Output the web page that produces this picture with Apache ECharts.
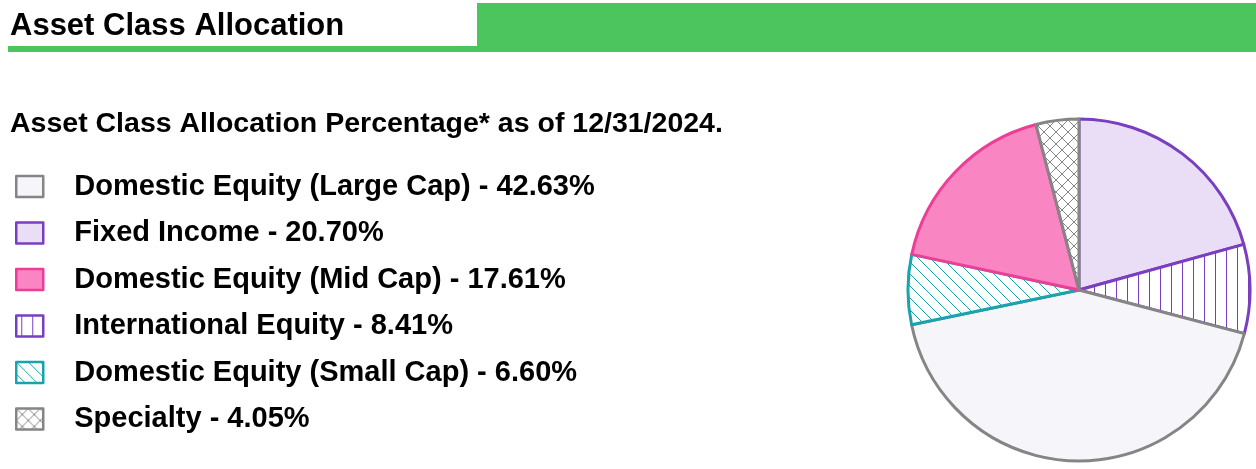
<!DOCTYPE html>
<html><head><meta charset="utf-8">
<script src="https://cdn.jsdelivr.net/npm/echarts@6/dist/echarts.min.js"></script>
<style>html,body{margin:0;padding:0;background:#fff}#c{width:1256px;height:469px}</style>
</head><body><div id="c"></div>
<script>
// slice order is clockwise from 12 o'clock, legend order is by size
const names = ['Fixed Income', 'International Equity', 'Domestic Equity (Large Cap)',
    'Domestic Equity (Small Cap)', 'Domestic Equity (Mid Cap)', 'Specialty'];
const values = [20.70, 8.41, 42.63, 6.60, 17.61, 4.05];
const legendOrder = ['Domestic Equity (Large Cap)', 'Fixed Income', 'Domestic Equity (Mid Cap)',
    'International Equity', 'Domestic Equity (Small Cap)', 'Specialty'];

function pattern(kind, stroke) {
    const cv = document.createElement('canvas');
    const s = kind === 'v' ? 11 : 12;
    cv.width = s; cv.height = s;
    const g = cv.getContext('2d');
    g.fillStyle = '#fff'; g.fillRect(0, 0, s, s);
    g.strokeStyle = stroke; g.lineWidth = 1;
    g.beginPath();
    if (kind === 'v') { g.moveTo(5.5, 0); g.lineTo(5.5, s); }
    if (kind === 'd' || kind === 'x') { g.moveTo(0, 0); g.lineTo(s, s); g.moveTo(-s, 0); g.lineTo(s, 2 * s); g.moveTo(0, -s); g.lineTo(2 * s, s); }
    if (kind === 'x') { g.moveTo(s, 0); g.lineTo(0, s); g.moveTo(2 * s, 0); g.lineTo(0, 2 * s); g.moveTo(s, -s); g.lineTo(-s, s); }
    g.stroke();
    return { image: cv, repeat: 'repeat' };
}

const styles = {
    'Fixed Income': { color: '#e9def5', borderColor: '#7a3fc0' },
    'International Equity': { color: pattern('v', '#7a3fc0'), borderColor: '#7a3fc0' },
    'Domestic Equity (Large Cap)': { color: '#f6f6fa', borderColor: '#858585' },
    'Domestic Equity (Small Cap)': { color: pattern('d', '#1aa3ad'), borderColor: '#1aa3ad' },
    'Domestic Equity (Mid Cap)': { color: '#f986c2', borderColor: '#ee3d96' },
    'Specialty': { color: pattern('x', '#858585'), borderColor: '#858585' }
};

const chart = echarts.init(document.getElementById('c'));
chart.setOption({
    animation: false,
    title: [
        { text: 'Asset Class Allocation', left: 5, top: 6, textStyle: { fontFamily: 'Liberation Sans', fontSize: 31, fontWeight: 'bold', color: '#000' } },
        { text: 'Asset Class Allocation Percentage* as of 12/31/2024.', left: 5, top: 105, textStyle: { fontFamily: 'Liberation Sans', fontSize: 28.5, fontWeight: 'bold', color: '#000' } }
    ],
    graphic: [
        { type: 'rect', shape: { x: 477, y: 3, width: 779, height: 49 }, style: { fill: '#4cc55e' } },
        { type: 'rect', shape: { x: 8, y: 46, width: 469, height: 6 }, style: { fill: '#4cc55e' } }
    ],
    legend: {
        orient: 'vertical', left: 10, top: 167,
        data: legendOrder, icon: 'rect',
        itemWidth: 27, itemHeight: 21, itemGap: 17.5,
        selectedMode: false,
        formatter: nm => nm + ' - ' + values[names.indexOf(nm)].toFixed(2) + '%',
        textStyle: { fontFamily: 'Liberation Sans', fontSize: 29, fontWeight: 'bold', color: '#000', padding: [0, 0, 0, 26] },
        itemStyle: { borderWidth: 2.5 }
    },
    series: [{
        type: 'pie', center: [1079, 290], radius: 171, startAngle: 90, clockwise: true,
        label: { show: false }, labelLine: { show: false },
        emphasis: { disabled: true },
        data: names.map((nm, i) => ({
            name: nm, value: values[i],
            itemStyle: Object.assign({ borderWidth: 3 }, styles[nm])
        }))
    }]
});
</script></body></html>
